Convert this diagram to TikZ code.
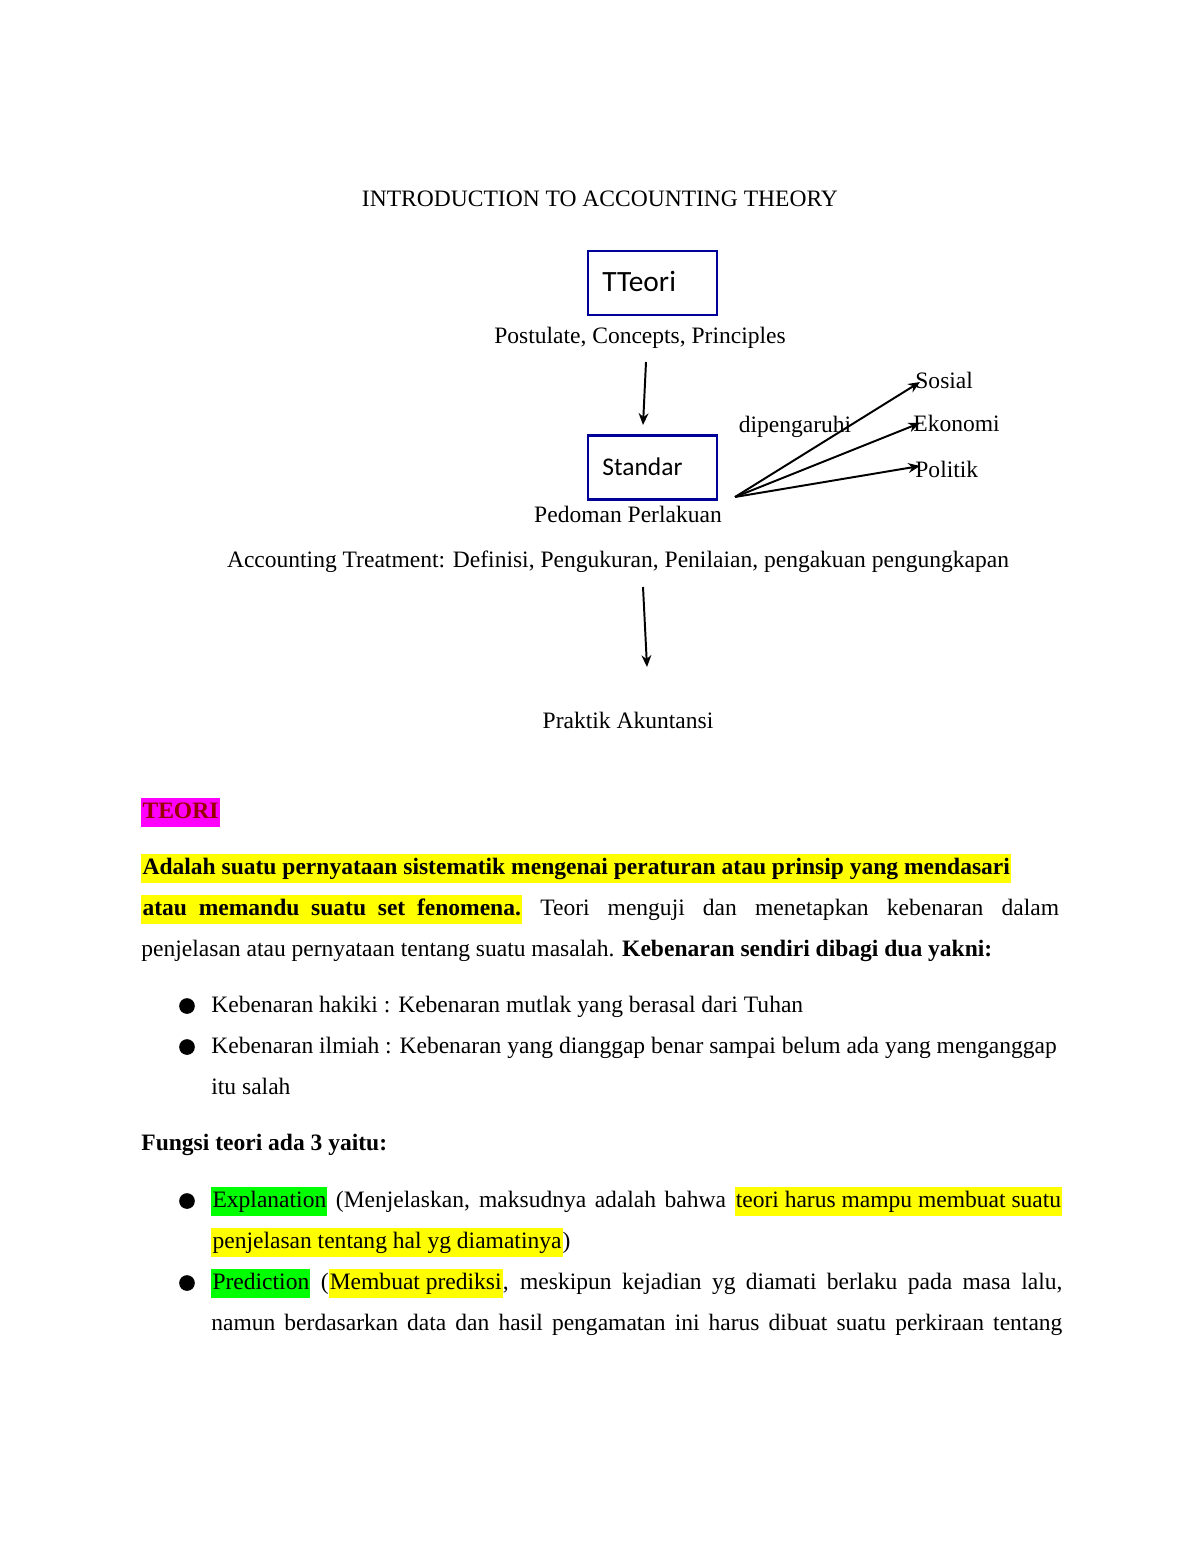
\documentclass[tikz,border=0pt]{standalone}
\usepackage{fontspec}
\setmainfont{Liberation Serif}
\newfontfamily\boxfont{Carlito}
\usetikzlibrary{arrows.meta}
\definecolor{hlyellow}{RGB}{255,255,0}
\definecolor{hlgreen}{RGB}{0,255,0}
\definecolor{hlpink}{RGB}{255,0,255}
\newcommand{\hly}[1]{{\setlength{\fboxsep}{0.6pt}\colorbox{hlyellow}{\strut #1}}}
\newcommand{\hlg}[1]{{\setlength{\fboxsep}{0.6pt}\colorbox{hlgreen}{\strut #1}}}
\newcommand{\fullline}[1]{\makebox[468pt][s]{#1}}
\tikzset{
    txt/.style={inner sep=0pt, font=\fontsize{12}{14}\selectfont, anchor=base},
    ltxt/.style={txt, anchor=base west},
    boxnode/.style={draw=blue!60!black, line width=1.2pt, minimum width=66pt,
        minimum height=32.5pt, inner sep=0pt},
    arr/.style={-{Stealth[length=6pt,width=5pt]}, line width=1pt},
    dot/.style={circle, fill, inner sep=0pt, minimum size=8pt}
}
\begin{document}
\begin{tikzpicture}[x=0.51pt, y=-0.51pt]
	\useasboundingbox (0,0) rectangle (1200,1553);
	% diagram
	\node (title) [txt] at (600,207) {INTRODUCTION TO ACCOUNTING THEORY};
	\node (teori) [boxnode] at (652.5,283) {};
	\node (teoritx) [anchor=west, inner sep=0pt, font=\boxfont\fontsize{15}{17}\selectfont] at (602,281) {TTeori};
	\node (post) [txt] at (640,343) {Postulate, Concepts, Principles};
	\coordinate (a1) at (646,362);
	\coordinate (a2) at (643,425);
	\draw[arr] (a1) -- (a2);
	\node (standar) [boxnode] at (652.5,467.5) {};
	\node (standartx) [anchor=west, inner sep=0pt, font=\boxfont\fontsize{13}{15}\selectfont] at (602,467) {Standar};
	\node (pedoman) [txt] at (628,522) {Pedoman Perlakuan};
	\node (dip) [txt] at (795,432) {dipengaruhi};
	\coordinate (src) at (735,497);
	\node (sosial) [ltxt] at (915,388) {Sosial};
	\node (ekonomi) [ltxt] at (913,431) {Ekonomi};
	\node (politik) [ltxt] at (915,477) {Politik};
	\coordinate (t1) at (920,382);
	\coordinate (t2) at (920,423);
	\coordinate (t3) at (920,466);
	\draw[arr] (src) -- (t1);
	\draw[arr] (src) -- (t2);
	\draw[arr] (src) -- (t3);
	\node (treat) [txt] at (618,567) {Accounting Treatment: Definisi, Pengukuran, Penilaian, pengakuan pengungkapan};
	\coordinate (b1) at (643,587);
	\coordinate (b2) at (647,667);
	\draw[arr] (b1) -- (b2);
	\node (praktik) [txt] at (628,728) {Praktik Akuntansi};
	% text
	\node (head) [ltxt] at (141,818) {\setlength{\fboxsep}{0.6pt}\colorbox{hlpink}{\strut\bfseries\color{red!60!black}TEORI}};
	\node (p1) [ltxt] at (141,874) {\fullline{\hly{\bfseries Adalah suatu pernyataan sistematik mengenai peraturan atau prinsip yang mendasari}}};
	\node (p2) [ltxt] at (141,915) {\fullline{\hly{\bfseries atau\ \ memandu\ \ suatu\ \ set\ \ fenomena.} Teori menguji dan menetapkan kebenaran dalam}};
	\node (p3) [ltxt] at (141,956) {penjelasan atau pernyataan tentang suatu masalah. \textbf{Kebenaran sendiri dibagi dua yakni:}};
	\node (d1) [dot] at (187,1006) {};
	\node (k1) [ltxt] at (211,1012) {Kebenaran hakiki : Kebenaran mutlak yang berasal dari Tuhan};
	\node (d2) [dot] at (187,1047) {};
	\node (k2) [ltxt] at (211,1053) {Kebenaran ilmiah : Kebenaran yang dianggap benar sampai belum ada yang menganggap};
	\node (k3) [ltxt] at (211,1094) {itu salah};
	\node (fungsi) [ltxt] at (141,1150) {\textbf{Fungsi teori ada 3 yaitu:}};
	\node (d3) [dot] at (187,1201) {};
	\node (f1) [ltxt] at (211,1207) {\makebox[434pt][s]{\hlg{Explanation} (Menjelaskan, maksudnya adalah bahwa \hly{teori harus mampu membuat suatu}}};
	\node (f2) [ltxt] at (211,1248) {\hly{penjelasan tentang hal yg diamatinya})};
	\node (d4) [dot] at (187,1283) {};
	\node (f3) [ltxt] at (211,1289) {\makebox[434pt][s]{\hlg{Prediction} (\hly{Membuat prediksi}, meskipun kejadian yg diamati berlaku pada masa lalu,}};
	\node (f4) [ltxt] at (211,1330) {\makebox[434pt][s]{namun berdasarkan data dan hasil pengamatan ini harus dibuat suatu perkiraan tentang}};
\end{tikzpicture}
\end{document}
